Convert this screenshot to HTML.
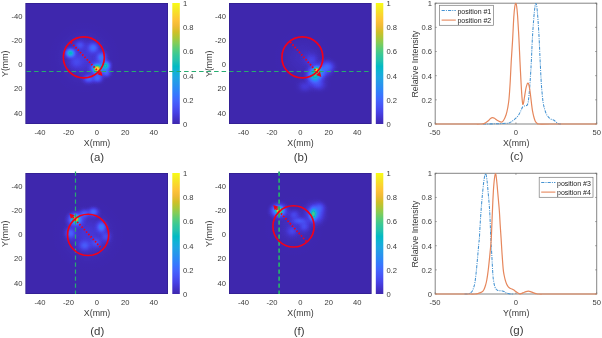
<!DOCTYPE html>
<html lang="en"><head><meta charset="utf-8"><title>Figure</title>
<style>html,body{margin:0;padding:0;background:#fff}svg{display:block}text{font-family:"Liberation Sans",sans-serif;fill:#3a3a3a}.t{font-size:7.6px}.l{font-size:8.8px}.g{font-size:7px;fill:#222}.c{font-size:11.5px;fill:#3c3c3c}</style>
</head><body>
<svg width="602" height="338" viewBox="0 0 602 338">
<defs>
<filter id="pm" x="0" y="0" width="1" height="1" color-interpolation-filters="sRGB"><feComponentTransfer>
<feFuncR type="table" tableValues="0.244 0.250 0.258 0.265 0.271 0.275 0.278 0.280 0.281 0.281 0.280 0.276 0.270 0.260 0.244 0.221 0.196 0.183 0.179 0.176 0.169 0.154 0.146 0.138 0.125 0.111 0.095 0.069 0.030 0.004 0.007 0.043 0.096 0.141 0.172 0.194 0.216 0.247 0.291 0.341 0.391 0.446 0.504 0.562 0.617 0.672 0.724 0.774 0.820 0.863 0.903 0.939 0.973 0.996 0.997 0.995 0.989 0.979 0.968 0.961 0.960 0.963 0.969 0.977"/>
<feFuncG type="table" tableValues="0.154 0.165 0.182 0.198 0.215 0.234 0.256 0.278 0.301 0.323 0.345 0.367 0.389 0.412 0.436 0.460 0.485 0.507 0.529 0.550 0.570 0.590 0.609 0.628 0.646 0.663 0.680 0.695 0.708 0.720 0.731 0.741 0.750 0.758 0.767 0.776 0.784 0.792 0.797 0.801 0.803 0.802 0.799 0.794 0.788 0.779 0.770 0.760 0.750 0.741 0.733 0.729 0.730 0.743 0.766 0.789 0.814 0.839 0.864 0.889 0.913 0.937 0.961 0.984"/>
<feFuncB type="table" tableValues="0.680 0.708 0.751 0.795 0.836 0.871 0.899 0.922 0.941 0.958 0.972 0.983 0.991 0.995 0.999 0.997 0.989 0.980 0.968 0.952 0.936 0.922 0.908 0.897 0.888 0.876 0.860 0.839 0.816 0.792 0.766 0.739 0.712 0.684 0.655 0.625 0.592 0.557 0.519 0.479 0.435 0.391 0.348 0.304 0.261 0.223 0.191 0.165 0.153 0.160 0.177 0.210 0.239 0.237 0.220 0.203 0.189 0.177 0.164 0.154 0.142 0.127 0.106 0.081"/>
</feComponentTransfer></filter>
<radialGradient id="gs">
<stop offset="0" stop-color="#fff" stop-opacity="1.000"/>
<stop offset="0.1" stop-color="#fff" stop-opacity="0.956"/>
<stop offset="0.2" stop-color="#fff" stop-opacity="0.835"/>
<stop offset="0.3" stop-color="#fff" stop-opacity="0.667"/>
<stop offset="0.4" stop-color="#fff" stop-opacity="0.487"/>
<stop offset="0.5" stop-color="#fff" stop-opacity="0.325"/>
<stop offset="0.6" stop-color="#fff" stop-opacity="0.198"/>
<stop offset="0.7" stop-color="#fff" stop-opacity="0.110"/>
<stop offset="0.8" stop-color="#fff" stop-opacity="0.056"/>
<stop offset="0.9" stop-color="#fff" stop-opacity="0.026"/>
<stop offset="1" stop-color="#fff" stop-opacity="0.000"/>
</radialGradient>
<linearGradient id="cb" x1="0" y1="1" x2="0" y2="0">
<stop offset="0.0000" stop-color="rgb(62,39,173)"/>
<stop offset="0.0476" stop-color="rgb(67,50,203)"/>
<stop offset="0.0952" stop-color="rgb(71,65,229)"/>
<stop offset="0.1429" stop-color="rgb(72,82,244)"/>
<stop offset="0.1905" stop-color="rgb(69,99,253)"/>
<stop offset="0.2381" stop-color="rgb(56,117,254)"/>
<stop offset="0.2857" stop-color="rgb(46,135,247)"/>
<stop offset="0.3333" stop-color="rgb(39,151,235)"/>
<stop offset="0.3810" stop-color="rgb(32,165,227)"/>
<stop offset="0.4286" stop-color="rgb(18,177,214)"/>
<stop offset="0.4762" stop-color="rgb(2,186,195)"/>
<stop offset="0.5238" stop-color="rgb(36,193,174)"/>
<stop offset="0.5714" stop-color="rgb(55,200,151)"/>
<stop offset="0.6190" stop-color="rgb(87,204,122)"/>
<stop offset="0.6667" stop-color="rgb(129,204,89)"/>
<stop offset="0.7143" stop-color="rgb(171,199,57)"/>
<stop offset="0.7619" stop-color="rgb(209,191,39)"/>
<stop offset="0.8095" stop-color="rgb(240,186,54)"/>
<stop offset="0.8571" stop-color="rgb(254,195,56)"/>
<stop offset="0.9048" stop-color="rgb(250,214,45)"/>
<stop offset="0.9524" stop-color="rgb(245,233,36)"/>
<stop offset="1.0000" stop-color="rgb(249,251,21)"/>
</linearGradient>
</defs>
<rect width="602" height="338" fill="#fff"/>
<g filter="url(#pm)">
<rect x="25.5" y="3" width="142.5" height="121" fill="#000"/>
<ellipse cx="84" cy="57.5" rx="39" ry="39" fill="url(#gs)" fill-opacity="0.07"/>
<ellipse cx="70.4" cy="53.1" rx="8.1" ry="7.5" fill="url(#gs)" fill-opacity="0.48"/>
<ellipse cx="97.1" cy="68.9" rx="6.3" ry="6.3" fill="url(#gs)" fill-opacity="0.95"/>
<ellipse cx="97.6" cy="68.6" rx="11.4" ry="10.2" fill="url(#gs)" fill-opacity="0.42"/>
<ellipse cx="105.6" cy="65.6" rx="8.1" ry="8.1" fill="url(#gs)" fill-opacity="0.5"/>
<ellipse cx="93.2" cy="47.8" rx="9.6" ry="9" fill="url(#gs)" fill-opacity="0.2"/>
<ellipse cx="101.5" cy="57.5" rx="9" ry="9.6" fill="url(#gs)" fill-opacity="0.24"/>
<ellipse cx="88.7" cy="78.8" rx="9.6" ry="7.8" fill="url(#gs)" fill-opacity="0.18"/>
<ellipse cx="97.6" cy="78.2" rx="9" ry="7.8" fill="url(#gs)" fill-opacity="0.2"/>
<ellipse cx="79.9" cy="45.1" rx="9" ry="7.8" fill="url(#gs)" fill-opacity="0.1"/>
<ellipse cx="106.5" cy="72.6" rx="7.8" ry="7.8" fill="url(#gs)" fill-opacity="0.18"/>
<ellipse cx="76" cy="62" rx="12" ry="12" fill="url(#gs)" fill-opacity="0.07"/>
</g>
<rect x="25.8" y="3.3" width="141.9" height="120.4" fill="none" stroke="#201466" stroke-opacity="0.55" stroke-width="0.6"/>
<text class="t" x="22.5" y="18.7" text-anchor="end">-40</text>
<text class="t" x="40.05" y="135.1" text-anchor="middle">-40</text>
<text class="t" x="22.5" y="42.9" text-anchor="end">-20</text>
<text class="t" x="68.55" y="135.1" text-anchor="middle">-20</text>
<text class="t" x="22.5" y="67.1" text-anchor="end">0</text>
<text class="t" x="96.75" y="135.1" text-anchor="middle">0</text>
<text class="t" x="22.5" y="91.3" text-anchor="end">20</text>
<text class="t" x="125.25" y="135.1" text-anchor="middle">20</text>
<text class="t" x="22.5" y="115.5" text-anchor="end">40</text>
<text class="t" x="153.75" y="135.1" text-anchor="middle">40</text>
<text class="l" x="97.05" y="146.1" text-anchor="middle">X(mm)</text>
<text class="l" transform="translate(8.2 63.8) rotate(-90)" text-anchor="middle">Y(mm)</text>
<rect x="172.3" y="3" width="7.5" height="121" fill="url(#cb)"/>
<text class="t" x="182.9" y="126.9">0</text>
<text class="t" x="182.9" y="102.7">0.2</text>
<text class="t" x="182.9" y="78.5">0.4</text>
<text class="t" x="182.9" y="54.3">0.6</text>
<text class="t" x="182.9" y="30.1">0.8</text>
<text class="t" x="182.9" y="5.9">1</text>
<g filter="url(#pm)">
<rect x="229" y="3" width="142.5" height="121" fill="#000"/>
<ellipse cx="316.6" cy="70.2" rx="5.4" ry="5.4" fill="url(#gs)" fill-opacity="0.85"/>
<ellipse cx="314.5" cy="75.5" rx="12" ry="13.2" fill="url(#gs)" fill-opacity="0.48"/>
<ellipse cx="317.5" cy="71.5" rx="10.5" ry="10.5" fill="url(#gs)" fill-opacity="0.25"/>
<ellipse cx="327.5" cy="66.8" rx="12.6" ry="10.8" fill="url(#gs)" fill-opacity="0.18"/>
<ellipse cx="322" cy="72" rx="13.5" ry="13.5" fill="url(#gs)" fill-opacity="0.12"/>
<ellipse cx="305" cy="86.5" rx="13.5" ry="10.5" fill="url(#gs)" fill-opacity="0.07"/>
<ellipse cx="318.7" cy="84.8" rx="13.5" ry="10.5" fill="url(#gs)" fill-opacity="0.1"/>
<ellipse cx="311.6" cy="60" rx="12" ry="12" fill="url(#gs)" fill-opacity="0.08"/>
<ellipse cx="303" cy="58" rx="36" ry="36" fill="url(#gs)" fill-opacity="0.03"/>
</g>
<rect x="229.3" y="3.3" width="141.9" height="120.4" fill="none" stroke="#201466" stroke-opacity="0.55" stroke-width="0.6"/>
<text class="t" x="226" y="18.7" text-anchor="end">-40</text>
<text class="t" x="243.55" y="135.1" text-anchor="middle">-40</text>
<text class="t" x="226" y="42.9" text-anchor="end">-20</text>
<text class="t" x="272.05" y="135.1" text-anchor="middle">-20</text>
<text class="t" x="226" y="67.1" text-anchor="end">0</text>
<text class="t" x="300.25" y="135.1" text-anchor="middle">0</text>
<text class="t" x="226" y="91.3" text-anchor="end">20</text>
<text class="t" x="328.75" y="135.1" text-anchor="middle">20</text>
<text class="t" x="226" y="115.5" text-anchor="end">40</text>
<text class="t" x="357.25" y="135.1" text-anchor="middle">40</text>
<text class="l" x="300.55" y="146.1" text-anchor="middle">X(mm)</text>
<text class="l" transform="translate(211.7 63.8) rotate(-90)" text-anchor="middle">Y(mm)</text>
<rect x="375.8" y="3" width="7.5" height="121" fill="url(#cb)"/>
<text class="t" x="386.4" y="126.9">0</text>
<text class="t" x="386.4" y="102.7">0.2</text>
<text class="t" x="386.4" y="78.5">0.4</text>
<text class="t" x="386.4" y="54.3">0.6</text>
<text class="t" x="386.4" y="30.1">0.8</text>
<text class="t" x="386.4" y="5.9">1</text>
<g filter="url(#pm)">
<rect x="25.5" y="173" width="142.5" height="121" fill="#000"/>
<ellipse cx="88" cy="235" rx="39" ry="39" fill="url(#gs)" fill-opacity="0.07"/>
<ellipse cx="75.8" cy="219" rx="6" ry="6" fill="url(#gs)" fill-opacity="0.85"/>
<ellipse cx="75.5" cy="219.5" rx="12" ry="10.8" fill="url(#gs)" fill-opacity="0.42"/>
<ellipse cx="93.5" cy="211.9" rx="9" ry="7.8" fill="url(#gs)" fill-opacity="0.2"/>
<ellipse cx="84.6" cy="213.7" rx="9" ry="7.8" fill="url(#gs)" fill-opacity="0.16"/>
<ellipse cx="101.5" cy="227" rx="8.4" ry="9.6" fill="url(#gs)" fill-opacity="0.24"/>
<ellipse cx="70.4" cy="233.2" rx="9" ry="10.2" fill="url(#gs)" fill-opacity="0.17"/>
<ellipse cx="84.6" cy="245.6" rx="10.2" ry="9" fill="url(#gs)" fill-opacity="0.13"/>
<ellipse cx="96.2" cy="243" rx="9.6" ry="9" fill="url(#gs)" fill-opacity="0.1"/>
<ellipse cx="106" cy="236.7" rx="9" ry="9.6" fill="url(#gs)" fill-opacity="0.1"/>
</g>
<rect x="25.8" y="173.3" width="141.9" height="120.4" fill="none" stroke="#201466" stroke-opacity="0.55" stroke-width="0.6"/>
<text class="t" x="22.5" y="188.7" text-anchor="end">-40</text>
<text class="t" x="40.05" y="305.1" text-anchor="middle">-40</text>
<text class="t" x="22.5" y="212.9" text-anchor="end">-20</text>
<text class="t" x="68.55" y="305.1" text-anchor="middle">-20</text>
<text class="t" x="22.5" y="237.1" text-anchor="end">0</text>
<text class="t" x="96.75" y="305.1" text-anchor="middle">0</text>
<text class="t" x="22.5" y="261.3" text-anchor="end">20</text>
<text class="t" x="125.25" y="305.1" text-anchor="middle">20</text>
<text class="t" x="22.5" y="285.5" text-anchor="end">40</text>
<text class="t" x="153.75" y="305.1" text-anchor="middle">40</text>
<text class="l" x="97.05" y="316.1" text-anchor="middle">X(mm)</text>
<text class="l" transform="translate(8.2 233.8) rotate(-90)" text-anchor="middle">Y(mm)</text>
<rect x="172.3" y="173" width="7.5" height="121" fill="url(#cb)"/>
<text class="t" x="182.9" y="296.9">0</text>
<text class="t" x="182.9" y="272.7">0.2</text>
<text class="t" x="182.9" y="248.5">0.4</text>
<text class="t" x="182.9" y="224.3">0.6</text>
<text class="t" x="182.9" y="200.1">0.8</text>
<text class="t" x="182.9" y="175.9">1</text>
<g filter="url(#pm)">
<rect x="229" y="173" width="142.5" height="121" fill="#000"/>
<ellipse cx="294" cy="226" rx="36" ry="36" fill="url(#gs)" fill-opacity="0.04"/>
<ellipse cx="279.1" cy="210.5" rx="6" ry="6" fill="url(#gs)" fill-opacity="0.9"/>
<ellipse cx="278.6" cy="210.6" rx="12.6" ry="10.8" fill="url(#gs)" fill-opacity="0.42"/>
<ellipse cx="313.2" cy="214" rx="6" ry="10.2" fill="url(#gs)" fill-opacity="0.5"/>
<ellipse cx="315" cy="213.5" rx="15.6" ry="16.8" fill="url(#gs)" fill-opacity="0.24"/>
<ellipse cx="319.9" cy="207.4" rx="9.6" ry="9" fill="url(#gs)" fill-opacity="0.1"/>
<ellipse cx="299.2" cy="220.9" rx="13.8" ry="6.6" fill="url(#gs)" fill-opacity="0.13"/>
<ellipse cx="294" cy="214.7" rx="9.6" ry="7.8" fill="url(#gs)" fill-opacity="0.09"/>
<ellipse cx="291.9" cy="231.2" rx="9.6" ry="9" fill="url(#gs)" fill-opacity="0.08"/>
<ellipse cx="304.3" cy="226.5" rx="9" ry="9" fill="url(#gs)" fill-opacity="0.1"/>
</g>
<rect x="229.3" y="173.3" width="141.9" height="120.4" fill="none" stroke="#201466" stroke-opacity="0.55" stroke-width="0.6"/>
<text class="t" x="226" y="188.7" text-anchor="end">-40</text>
<text class="t" x="243.55" y="305.1" text-anchor="middle">-40</text>
<text class="t" x="226" y="212.9" text-anchor="end">-20</text>
<text class="t" x="272.05" y="305.1" text-anchor="middle">-20</text>
<text class="t" x="226" y="237.1" text-anchor="end">0</text>
<text class="t" x="300.25" y="305.1" text-anchor="middle">0</text>
<text class="t" x="226" y="261.3" text-anchor="end">20</text>
<text class="t" x="328.75" y="305.1" text-anchor="middle">20</text>
<text class="t" x="226" y="285.5" text-anchor="end">40</text>
<text class="t" x="357.25" y="305.1" text-anchor="middle">40</text>
<text class="l" x="300.55" y="316.1" text-anchor="middle">X(mm)</text>
<text class="l" transform="translate(211.7 233.8) rotate(-90)" text-anchor="middle">Y(mm)</text>
<rect x="375.8" y="173" width="7.5" height="121" fill="url(#cb)"/>
<text class="t" x="386.4" y="296.9">0</text>
<text class="t" x="386.4" y="272.7">0.2</text>
<text class="t" x="386.4" y="248.5">0.4</text>
<text class="t" x="386.4" y="224.3">0.6</text>
<text class="t" x="386.4" y="200.1">0.8</text>
<text class="t" x="386.4" y="175.9">1</text>
<path d="M26.6 71.5H371.5" stroke="#27ab70" stroke-width="1.2" stroke-dasharray="4.5 3" fill="none"/>
<path d="M75.5 171.6V294" stroke="#27ab70" stroke-width="1.2" stroke-dasharray="4.2 2.8" fill="none"/>
<path d="M279.1 171.6V294" stroke="#27ab70" stroke-width="1.8" stroke-dasharray="4.2 2.8" fill="none"/>
<circle cx="83.85" cy="57.35" r="20.5" fill="none" stroke="#f2001a" stroke-width="1.65"/>
<path d="M71 42.4L99.22 72.5" stroke="#f2001a" stroke-width="1.8" stroke-dasharray="1.5 1.8" fill="none"/>
<path d="M102.5 76L97.32 74.28L101.11 70.72Z" fill="#f2001a"/>
<circle cx="302.4" cy="57.4" r="20.5" fill="none" stroke="#f2001a" stroke-width="1.65"/>
<path d="M290.3 42L318.11 73.31" stroke="#f2001a" stroke-width="1.8" stroke-dasharray="1.5 1.8" fill="none"/>
<path d="M321.3 76.9L316.17 75.04L320.06 71.58Z" fill="#f2001a"/>
<circle cx="88.1" cy="234.9" r="20.6" fill="none" stroke="#f2001a" stroke-width="1.65"/>
<path d="M100.5 247.2L72.74 216.94" stroke="#f2001a" stroke-width="1.8" stroke-dasharray="1.5 1.8" fill="none"/>
<path d="M69.5 213.4L74.66 215.18L70.83 218.69Z" fill="#f2001a"/>
<circle cx="293.5" cy="226.4" r="20.6" fill="none" stroke="#f2001a" stroke-width="1.65"/>
<path d="M306.4 241.4L276.53 208.55" stroke="#f2001a" stroke-width="1.8" stroke-dasharray="1.5 1.8" fill="none"/>
<path d="M273.3 205L278.45 206.8L274.61 210.3Z" fill="#f2001a"/>
<rect x="435.2" y="3.2" width="161.5" height="120.8" fill="#fff" stroke="#858585" stroke-width="1"/>
<text class="t" x="432" y="126.9" text-anchor="end">0</text>
<text class="t" x="432" y="102.74" text-anchor="end">0.2</text>
<text class="t" x="432" y="78.58" text-anchor="end">0.4</text>
<text class="t" x="432" y="54.42" text-anchor="end">0.6</text>
<text class="t" x="432" y="30.26" text-anchor="end">0.8</text>
<text class="t" x="432" y="6.1" text-anchor="end">1</text>
<text class="t" x="434.9" y="135.1" text-anchor="middle">-50</text>
<text class="t" x="515.95" y="135.1" text-anchor="middle">0</text>
<text class="t" x="596.7" y="135.1" text-anchor="middle">50</text>
<path d="M435.2 124h1.6M596.7 124h-1.6M435.2 99.84h1.6M596.7 99.84h-1.6M435.2 75.68h1.6M596.7 75.68h-1.6M435.2 51.52h1.6M596.7 51.52h-1.6M435.2 27.36h1.6M596.7 27.36h-1.6M435.2 3.2h1.6M596.7 3.2h-1.6M435.2 124v-1.6M435.2 3.2v1.6M515.95 124v-1.6M515.95 3.2v1.6M596.7 124v-1.6M596.7 3.2v1.6" stroke="#666" stroke-width="0.6" fill="none"/>
<text class="l" x="516.15" y="146.3" text-anchor="middle">X(mm)</text>
<text class="l" transform="translate(418.2 64) rotate(-90)" text-anchor="middle">Relative Intensity</text>
<path d="M483 124C483.33 124 483 124.03 485 124C487 123.97 492 123.88 495 123.8C498 123.72 500.67 123.65 503 123.5C505.33 123.35 507.42 123.32 509 122.9C510.58 122.48 511.35 121.78 512.5 121C513.65 120.22 514.85 119.25 515.9 118.2C516.95 117.15 517.95 115.98 518.8 114.7C519.65 113.42 520.35 111.8 521 110.5C521.65 109.2 522.03 107.68 522.7 106.9C523.37 106.12 524.28 106.07 525 105.8C525.72 105.53 526.5 105.77 527 105.3C527.5 104.83 527.73 104.05 528 103C528.27 101.95 528.35 101.17 528.6 99C528.85 96.83 529.18 93.9 529.5 90C529.82 86.1 530.18 80.6 530.5 75.6C530.82 70.6 531.08 66.27 531.4 60C531.72 53.73 532 45 532.4 38C532.8 31 533.37 23.25 533.8 18C534.23 12.75 534.65 8.93 535 6.5C535.35 4.07 535.6 3.4 535.9 3.4C536.2 3.4 536.45 3.73 536.8 6.5C537.15 9.27 537.6 14.42 538 20C538.4 25.58 538.85 33.33 539.2 40C539.55 46.67 539.75 52.77 540.1 60C540.45 67.23 540.95 77.73 541.3 83.4C541.65 89.07 541.88 90.73 542.2 94C542.52 97.27 542.8 100.5 543.2 103C543.6 105.5 544.1 107.22 544.6 109C545.1 110.78 545.63 112.45 546.2 113.7C546.77 114.95 547.37 115.68 548 116.5C548.63 117.32 549.33 118.08 550 118.6C550.67 119.12 551.33 119.33 552 119.6C552.67 119.87 553.33 119.83 554 120.2C554.67 120.57 555.35 121.25 556 121.8C556.65 122.35 557.32 123.13 557.9 123.5C558.48 123.87 558.98 123.92 559.5 124C560.02 124.08 560.75 124 561 124" stroke="#4593d2" stroke-width="1.05" stroke-dasharray="3.2 1.1 1 1.1" fill="none" stroke-linejoin="round"/>
<path d="M435.2 124C441 124 462.53 124 470 124C477.47 124 477.67 124.07 480 124C482.33 123.93 482.67 124.1 484 123.6C485.33 123.1 486.92 121.85 488 121C489.08 120.15 489.75 119.07 490.5 118.5C491.25 117.93 491.83 117.63 492.5 117.6C493.17 117.57 493.67 117.8 494.5 118.3C495.33 118.8 496.38 119.97 497.5 120.6C498.62 121.23 500.25 122.12 501.25 122.1C502.25 122.08 502.69 121.73 503.5 120.5C504.31 119.27 505.4 116.78 506.1 114.7C506.8 112.62 507.22 110.62 507.7 108C508.18 105.38 508.58 103.33 509 99C509.42 94.67 509.83 88.17 510.2 82C510.57 75.83 510.8 69 511.2 62C511.6 55 512.17 47.5 512.6 40C513.03 32.5 513.43 22.58 513.8 17C514.17 11.42 514.48 8.77 514.8 6.5C515.12 4.23 515.4 3.48 515.7 3.4C516 3.32 516.28 3.9 516.6 6C516.92 8.1 517.22 10.67 517.6 16C517.98 21.33 518.5 30.33 518.9 38C519.3 45.67 519.62 54.1 520 62C520.38 69.9 520.87 79.48 521.2 85.4C521.53 91.32 521.75 94.4 522 97.5C522.25 100.6 522.45 103.08 522.7 104C522.95 104.92 523.2 104.17 523.5 103C523.8 101.83 524.08 99.5 524.5 97C524.92 94.5 525.55 90.17 526 88C526.45 85.83 526.87 84.83 527.2 84C527.53 83.17 527.73 82.92 528 83C528.27 83.08 528.52 83.5 528.8 84.5C529.08 85.5 529.42 87.25 529.7 89C529.98 90.75 530.2 92.58 530.5 95C530.8 97.42 531.17 100.87 531.5 103.5C531.83 106.13 532.08 108.47 532.5 110.8C532.92 113.13 533.52 115.72 534 117.5C534.48 119.28 534.9 120.53 535.4 121.5C535.9 122.47 536.4 122.88 537 123.3C537.6 123.72 536.83 123.88 539 124C541.17 124.12 540.38 124 550 124C559.62 124 588.92 124 596.7 124" stroke="#e6875c" stroke-width="1.2" fill="none" stroke-linejoin="round"/>
<rect x="439.6" y="5.3" width="53.8" height="20" fill="#fff" stroke="#7a7a7a" stroke-width="0.7"/>
<path d="M441.6 10.5h14.2" stroke="#4593d2" stroke-width="1.05" stroke-dasharray="3.2 1.1 1 1.1"/>
<path d="M441.6 20.1h14.2" stroke="#e6875c" stroke-width="1.1"/>
<text class="g" x="457.4" y="13.5">position #1</text>
<text class="g" x="457.4" y="23.2">position #2</text>
<rect x="435.2" y="173.3" width="161.5" height="120.7" fill="#fff" stroke="#858585" stroke-width="1"/>
<text class="t" x="432" y="296.9" text-anchor="end">0</text>
<text class="t" x="432" y="272.76" text-anchor="end">0.2</text>
<text class="t" x="432" y="248.62" text-anchor="end">0.4</text>
<text class="t" x="432" y="224.48" text-anchor="end">0.6</text>
<text class="t" x="432" y="200.34" text-anchor="end">0.8</text>
<text class="t" x="432" y="176.2" text-anchor="end">1</text>
<text class="t" x="434.9" y="305.1" text-anchor="middle">-50</text>
<text class="t" x="515.95" y="305.1" text-anchor="middle">0</text>
<text class="t" x="596.7" y="305.1" text-anchor="middle">50</text>
<path d="M435.2 294h1.6M596.7 294h-1.6M435.2 269.86h1.6M596.7 269.86h-1.6M435.2 245.72h1.6M596.7 245.72h-1.6M435.2 221.58h1.6M596.7 221.58h-1.6M435.2 197.44h1.6M596.7 197.44h-1.6M435.2 173.3h1.6M596.7 173.3h-1.6M435.2 294v-1.6M435.2 173.3v1.6M515.95 294v-1.6M515.95 173.3v1.6M596.7 294v-1.6M596.7 173.3v1.6" stroke="#666" stroke-width="0.6" fill="none"/>
<text class="l" x="516.15" y="316.3" text-anchor="middle">Y(mm)</text>
<text class="l" transform="translate(418.2 234.05) rotate(-90)" text-anchor="middle">Relative Intensity</text>
<path d="M464.5 294C464.75 294 465.25 294.07 466 294C466.75 293.93 468 294.02 469 293.6C470 293.18 471.25 292.43 472 291.5C472.75 290.57 473.02 289.47 473.5 288C473.98 286.53 474.48 285.03 474.9 282.7C475.32 280.37 475.67 276.92 476 274C476.33 271.08 476.58 268.53 476.9 265.2C477.22 261.87 477.58 257.58 477.9 254C478.22 250.42 478.55 246.37 478.8 243.7C479.05 241.03 479.18 241.12 479.4 238C479.62 234.88 479.83 229.42 480.1 225C480.37 220.58 480.68 215.83 481 211.5C481.32 207.17 481.7 202.47 482 199C482.3 195.53 482.53 193.37 482.8 190.7C483.07 188.03 483.35 185.12 483.6 183C483.85 180.88 484.07 179.33 484.3 178C484.53 176.67 484.78 175.73 485 175C485.22 174.27 485.4 173.6 485.6 173.6C485.8 173.6 485.97 173.93 486.2 175C486.43 176.07 486.7 177.38 487 180C487.3 182.62 487.68 187.2 488 190.7C488.32 194.2 488.62 197.53 488.9 201C489.18 204.47 489.47 207.5 489.7 211.5C489.93 215.5 490.12 220.58 490.3 225C490.48 229.42 490.57 233.27 490.8 238C491.03 242.73 491.35 247.25 491.7 253.4C492.05 259.55 492.55 270.13 492.9 274.9C493.25 279.67 493.48 280.05 493.8 282C494.12 283.95 494.43 285.43 494.8 286.6C495.17 287.77 495.57 288.4 496 289C496.43 289.6 496.73 289.92 497.4 290.2C498.07 290.48 499.18 290.58 500 290.7C500.82 290.82 501.55 290.72 502.3 290.9C503.05 291.08 503.85 291.47 504.5 291.8C505.15 292.13 505.45 292.58 506.2 292.9C506.95 293.22 508.03 293.52 509 293.7C509.97 293.88 511.17 293.95 512 294C512.83 294.05 513.67 294 514 294" stroke="#4593d2" stroke-width="1.05" stroke-dasharray="3.2 1.1 1 1.1" fill="none" stroke-linejoin="round"/>
<path d="M435.3 294C440.25 294 458.4 294 465 294C471.6 294 472.73 294.08 474.9 294C477.07 293.92 476.85 293.82 478 293.5C479.15 293.18 480.8 292.77 481.8 292.1C482.8 291.43 483.35 290.73 484 289.5C484.65 288.27 485.25 286.2 485.7 284.7C486.15 283.2 486.38 282.13 486.7 280.5C487.02 278.87 487.28 277.15 487.6 274.9C487.92 272.65 488.27 269.93 488.6 267C488.93 264.07 489.27 260.63 489.6 257.3C489.93 253.97 490.32 250.15 490.6 247C490.88 243.85 491.1 241.9 491.3 238.4C491.5 234.9 491.62 230.48 491.8 226C491.98 221.52 492.22 215.83 492.4 211.5C492.58 207.17 492.73 203.47 492.9 200C493.07 196.53 493.23 193.37 493.4 190.7C493.57 188.03 493.73 185.95 493.9 184C494.07 182.05 494.22 180.5 494.4 179C494.58 177.5 494.82 175.9 495 175C495.18 174.1 495.33 173.6 495.5 173.6C495.67 173.6 495.82 173.93 496 175C496.18 176.07 496.42 178.33 496.6 180C496.78 181.67 496.93 183.22 497.1 185C497.27 186.78 497.37 188.03 497.6 190.7C497.83 193.37 498.2 197.53 498.5 201C498.8 204.47 499.12 207.5 499.4 211.5C499.68 215.5 499.92 220.52 500.2 225C500.48 229.48 500.82 233.98 501.1 238.4C501.38 242.82 501.55 246.38 501.9 251.5C502.25 256.62 502.82 265.1 503.2 269.1C503.58 273.1 503.87 273.72 504.2 275.5C504.53 277.28 504.8 278.38 505.2 279.8C505.6 281.22 506.12 282.87 506.6 284C507.08 285.13 507.53 285.9 508.1 286.6C508.67 287.3 509.35 287.8 510 288.2C510.65 288.6 511.42 288.73 512 289C512.58 289.27 513 289.48 513.5 289.8C514 290.12 514.33 290.4 515 290.9C515.67 291.4 516.7 292.3 517.5 292.8C518.3 293.3 519.13 293.78 519.8 293.9C520.47 294.02 520.84 293.73 521.5 293.5C522.16 293.27 523 292.82 523.75 292.5C524.5 292.18 525.24 291.82 526 291.6C526.76 291.38 527.55 291.2 528.3 291.2C529.05 291.2 529.72 291.37 530.5 291.6C531.28 291.83 532.08 292.27 533 292.6C533.92 292.93 535 293.37 536 293.6C537 293.83 536.67 293.93 539 294C541.33 294.07 540.38 294 550 294C559.62 294 588.92 294 596.7 294" stroke="#e6875c" stroke-width="1.2" fill="none" stroke-linejoin="round"/>
<rect x="539.2" y="177.3" width="53.8" height="20" fill="#fff" stroke="#7a7a7a" stroke-width="0.7"/>
<path d="M541.2 182.5h14.2" stroke="#4593d2" stroke-width="1.05" stroke-dasharray="3.2 1.1 1 1.1"/>
<path d="M541.2 192.1h14.2" stroke="#e6875c" stroke-width="1.1"/>
<text class="g" x="557" y="185.5">position #3</text>
<text class="g" x="557" y="195.2">position #4</text>
<text class="c" x="97.1" y="160.8" text-anchor="middle">(a)</text>
<text class="c" x="300.7" y="161.1" text-anchor="middle">(b)</text>
<text class="c" x="516.7" y="160.3" text-anchor="middle">(c)</text>
<text class="c" x="97.2" y="334.5" text-anchor="middle">(d)</text>
<text class="c" x="299.2" y="334.5" text-anchor="middle">(f)</text>
<text class="c" x="516.5" y="334.3" text-anchor="middle">(g)</text>
</svg></body></html>
